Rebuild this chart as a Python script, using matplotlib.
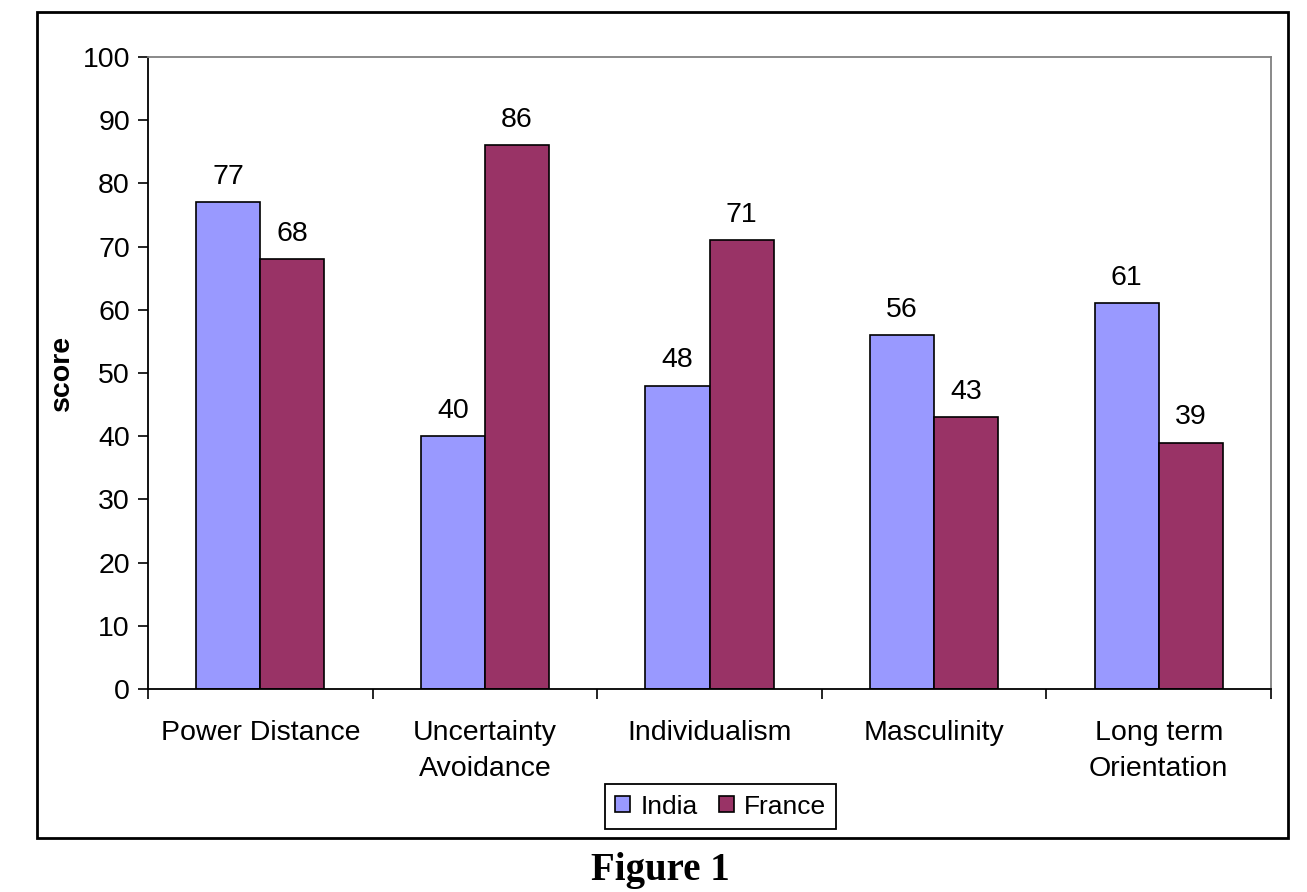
import matplotlib
matplotlib.use("Agg")
import matplotlib.pyplot as plt
from matplotlib.patches import Rectangle
import numpy as np

categories = ["Power Distance", "Uncertainty\nAvoidance", "Individualism", "Masculinity", "Long term\nOrientation"]
india = [77, 40, 48, 56, 61]
france = [68, 86, 71, 43, 39]
series_names = ["India", "France"]
yticks = list(range(0, 101, 10))

plt.rcParams['font.family'] = ['Liberation Sans', 'DejaVu Sans']
fs = 20.5

fig = plt.figure(figsize=(13.07, 8.92), dpi=100)
ax = fig.add_axes([148/1307, 1-689/892, (1271-148)/1307, (689-57)/892])

x = np.arange(len(categories))
w = 0.285
b1 = ax.bar(x - w/2, india, w, color="#9999FF", edgecolor="black", linewidth=1.2, label=series_names[0])
b2 = ax.bar(x + w/2, france, w, color="#993366", edgecolor="black", linewidth=1.2, label=series_names[1])

for bars, vals in ((b1, india), (b2, france)):
    for r, v in zip(bars, vals):
        ax.annotate(str(v), (r.get_x() + r.get_width()/2, v), xytext=(0, 9), textcoords="offset points",
                    ha="center", va="bottom", fontsize=fs)

ax.set_xlim(-0.5, len(categories) - 0.5)
ax.set_ylim(0, 100)
ax.set_yticks(yticks)
ax.tick_params(axis='y', labelsize=fs, length=7, width=1.2, direction='out', pad=6)
ax.set_xticks(x)
ax.set_xticklabels(categories, fontsize=fs, linespacing=1.5)
ax.tick_params(axis='x', length=0, pad=22)
ax.set_xticks(np.arange(-0.5, len(categories), 1.0), minor=True)
ax.tick_params(axis='x', which='minor', length=7, width=1.2, direction='out')
ax.text(-0.0766, 0.5, "score", transform=ax.transAxes, rotation=90, ha='center', va='center',
        fontsize=fs, fontweight='bold')

for s in ('left', 'bottom'):
    ax.spines[s].set_color('black')
    ax.spines[s].set_linewidth(1.3)
for s in ('top', 'right'):
    ax.spines[s].set_color('#808080')
    ax.spines[s].set_linewidth(1.3)

leg = fig.legend(handles=[b1, b2], loc='center', bbox_to_anchor=(720.5/1307, 1-806.5/892), ncol=2,
                 fontsize=19, frameon=True, fancybox=False, edgecolor='black', framealpha=1,
                 handlelength=0.57, handleheight=0.57, handletextpad=0.38, columnspacing=0.8,
                 borderpad=0.38, borderaxespad=0)
leg.get_frame().set_linewidth(1.3)

fig.patches.append(Rectangle((37/1307, 1-838/892), (1288-37)/1307, (838-12)/892, transform=fig.transFigure,
                             fill=False, edgecolor='black', linewidth=2))

fig.text(660/1307, 1-889/892, "Figure 1", ha='center', va='bottom', fontsize=28, fontweight='bold',
         family=['Liberation Serif', 'DejaVu Serif'])

fig.savefig("out.png", dpi=100)
